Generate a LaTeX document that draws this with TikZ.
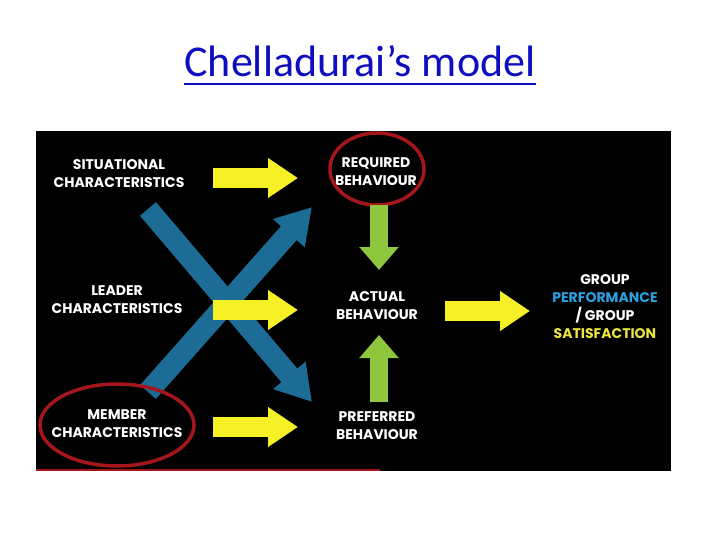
\documentclass[tikz,border=0pt]{standalone}
\usepackage{fontspec}
\setmainfont{Carlito}
\newfontfamily\disp{Poppins}
\usetikzlibrary{arrows.meta}
\definecolor{ttlblue}{RGB}{14,14,192}
\definecolor{arrYellow}{RGB}{246,240,38}
\definecolor{arrGreen}{RGB}{142,198,62}
\definecolor{arrBlue}{RGB}{28,108,150}
\definecolor{ringRed}{RGB}{165,22,28}
\definecolor{perfBlue}{RGB}{42,160,225}
\definecolor{satYellow}{RGB}{236,230,60}
\begin{document}
\begin{tikzpicture}[x=1pt,y=-1pt,
  lbl/.style={font=\disp\bfseries\fontsize{14}{18}\selectfont, text=white, align=center, inner sep=0pt},
  yarrow/.style={arrYellow, line width=20pt, -{Triangle[length=30pt,width=38pt]}},
  garrow/.style={arrGreen, line width=18pt, -{Triangle[length=23pt,width=38pt]}},
  barrow/.style={arrBlue, line width=21pt, -{Triangle[length=35pt,width=40pt]}},
  ring/.style={draw=ringRed, line width=3.5pt}]
\useasboundingbox (0,0) rectangle (720,540);
\fill[white] (0,0) rectangle (720,540);
% title
\node[anchor=base, text=ttlblue, inner sep=0pt, font=\fontsize{44}{48}\selectfont] (title) at (360,77) {Chelladurai’s model};
\draw[ttlblue, line width=2.5pt] ([yshift=-7pt]title.base west) -- ([yshift=-7pt]title.base east);
% panel
\fill[black] (36,131) rectangle (671,471);
\draw[ringRed, line width=2pt] (36,470) -- (380,470);
% coordinates for connectors
\coordinate (bA1) at (148,209); \coordinate (bA2) at (312,402);
\coordinate (bB1) at (148,392); \coordinate (bB2) at (312,207);
% blue crossing arrows
\draw[barrow] (bA1) -- (bA2);
\draw[barrow] (bB1) -- (bB2);
% labels
\node[lbl] (sit) at (119,174) {SITUATIONAL\\CHARACTERISTICS};
\node[lbl] (lead) at (117,300) {LEADER\\CHARACTERISTICS};
\node[lbl] (mem) at (117,424) {MEMBER\\CHARACTERISTICS};
\node[lbl] (req) at (376,172) {REQUIRED\\BEHAVIOUR};
\node[lbl] (act) at (377,306) {ACTUAL\\BEHAVIOUR};
\node[lbl] (pref) at (377,426) {PREFERRED\\BEHAVIOUR};
\node[lbl] (grp) at (605,307) {GROUP\\\textcolor{perfBlue}{PERFORMANCE}\\/ GROUP\\\textcolor{satYellow}{SATISFACTION}};
% rings
\draw[ring] (377,169) ellipse [x radius=47, y radius=36];
\draw[ring] (117,425) ellipse [x radius=77, y radius=41];
% yellow arrows
\coordinate (y1a) at (213,178); \coordinate (y1b) at (298,178);
\coordinate (y2a) at (213,310); \coordinate (y2b) at (298,310);
\coordinate (y3a) at (213,427); \coordinate (y3b) at (298,427);
\coordinate (y4a) at (445,311); \coordinate (y4b) at (530,311);
\draw[yarrow] (y1a) -- (y1b);
\draw[yarrow] (y2a) -- (y2b);
\draw[yarrow] (y3a) -- (y3b);
\draw[yarrow] (y4a) -- (y4b);
% green arrows
\coordinate (g1a) at (379,205); \coordinate (g1b) at (379,270);
\coordinate (g2a) at (379,402); \coordinate (g2b) at (379,335);
\draw[garrow] (g1a) -- (g1b);
\draw[garrow] (g2a) -- (g2b);
\end{tikzpicture}
\end{document}
